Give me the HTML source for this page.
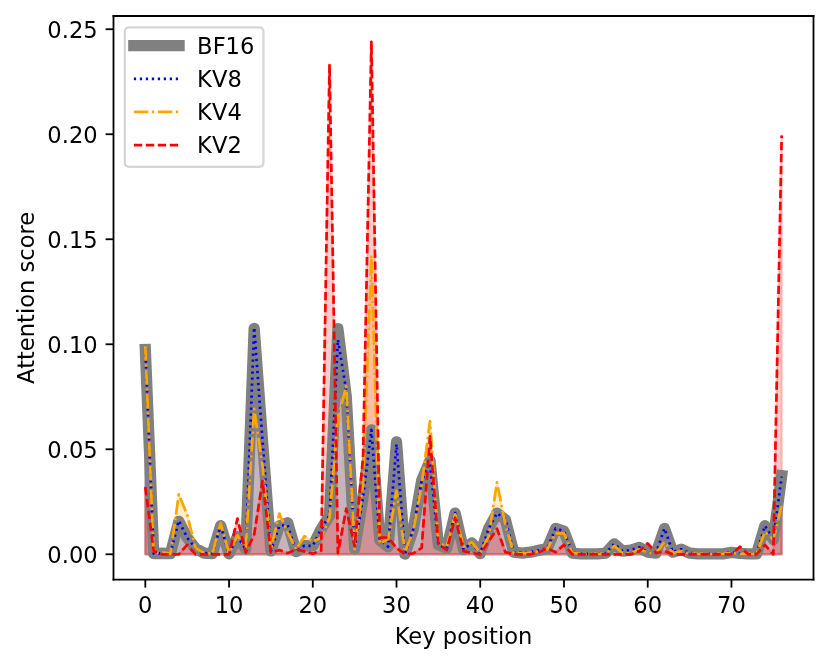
<!DOCTYPE html>
<html><head><meta charset="utf-8"><title>Attention score</title>
<style>html,body{margin:0;padding:0;background:#fff}svg{display:block}svg text{font-family:"DejaVu Sans","Liberation Sans",sans-serif}</style></head>
<body>
<svg  width="830" height="665" viewBox="0 0 367.18894 294.193548"  version="1.1">
 
 <defs>
  <style type="text/css">*{stroke-linejoin: round; stroke-linecap: butt}</style>
 </defs>
 <g id="figure_1">
  <g id="patch_1">
   <path d="M 0 294.193548 
L 367.18894 294.193548 
L 367.18894 0 
L 0 0 
z
" style="fill: #ffffff"/>
  </g>
  <g id="axes_1">
   <g id="patch_2">
    <path d="M 50.211982 256.457143 
L 359.889401 256.457143 
L 359.889401 7.078341 
L 50.211982 7.078341 
z
" style="fill: #ffffff"/>
   </g>
   <g id="FillBetweenPolyCollection_1">
    <defs>
     <path id="m7d5eb686ec" d="M 64.288228 -139.56918 
L 64.288228 -48.978892 
L 67.992503 -48.978892 
L 71.696779 -48.978892 
L 75.401054 -48.978892 
L 79.105329 -48.978892 
L 82.809605 -48.978892 
L 86.51388 -48.978892 
L 90.218155 -48.978892 
L 93.922431 -48.978892 
L 97.626706 -48.978892 
L 101.330981 -48.978892 
L 105.035257 -48.978892 
L 108.739532 -48.978892 
L 112.443807 -48.978892 
L 116.148083 -48.978892 
L 119.852358 -48.978892 
L 123.556634 -48.978892 
L 127.260909 -48.978892 
L 130.965184 -48.978892 
L 134.66946 -48.978892 
L 138.373735 -48.978892 
L 142.07801 -48.978892 
L 145.782286 -48.978892 
L 149.486561 -48.978892 
L 153.190836 -48.978892 
L 156.895112 -48.978892 
L 160.599387 -48.978892 
L 164.303662 -48.978892 
L 168.007938 -48.978892 
L 171.712213 -48.978892 
L 175.416488 -48.978892 
L 179.120764 -48.978892 
L 182.825039 -48.978892 
L 186.529314 -48.978892 
L 190.23359 -48.978892 
L 193.937865 -48.978892 
L 197.642141 -48.978892 
L 201.346416 -48.978892 
L 205.050691 -48.978892 
L 208.754967 -48.978892 
L 212.459242 -48.978892 
L 216.163517 -48.978892 
L 219.867793 -48.978892 
L 223.572068 -48.978892 
L 227.276343 -48.978892 
L 230.980619 -48.978892 
L 234.684894 -48.978892 
L 238.389169 -48.978892 
L 242.093445 -48.978892 
L 245.79772 -48.978892 
L 249.501995 -48.978892 
L 253.206271 -48.978892 
L 256.910546 -48.978892 
L 260.614822 -48.978892 
L 264.319097 -48.978892 
L 268.023372 -48.978892 
L 271.727648 -48.978892 
L 275.431923 -48.978892 
L 279.136198 -48.978892 
L 282.840474 -48.978892 
L 286.544749 -48.978892 
L 290.249024 -48.978892 
L 293.9533 -48.978892 
L 297.657575 -48.978892 
L 301.36185 -48.978892 
L 305.066126 -48.978892 
L 308.770401 -48.978892 
L 312.474676 -48.978892 
L 316.178952 -48.978892 
L 319.883227 -48.978892 
L 323.587502 -48.978892 
L 327.291778 -48.978892 
L 330.996053 -48.978892 
L 334.700329 -48.978892 
L 338.404604 -48.978892 
L 342.108879 -48.978892 
L 345.813155 -48.978892 
L 345.813155 -83.821311 
L 345.813155 -83.821311 
L 342.108879 -55.482811 
L 338.404604 -61.615076 
L 334.700329 -49.164719 
L 330.996053 -49.164719 
L 327.291778 -49.350545 
L 323.587502 -49.815111 
L 319.883227 -49.164719 
L 316.178952 -49.164719 
L 312.474676 -49.164719 
L 308.770401 -49.164719 
L 305.066126 -49.536371 
L 301.36185 -51.208807 
L 297.657575 -49.908024 
L 293.9533 -60.407206 
L 290.249024 -49.536371 
L 286.544749 -49.908024 
L 282.840474 -52.045025 
L 279.136198 -50.837155 
L 275.431923 -50.372589 
L 271.727648 -53.624548 
L 268.023372 -49.536371 
L 264.319097 -49.164719 
L 260.614822 -49.164719 
L 256.910546 -49.164719 
L 253.206271 -49.536371 
L 249.501995 -59.199335 
L 245.79772 -60.407206 
L 242.093445 -51.58046 
L 238.389169 -50.744242 
L 234.684894 -49.908024 
L 230.980619 -49.536371 
L 227.276343 -49.908024 
L 223.572068 -64.309557 
L 219.867793 -67.189863 
L 216.163517 -60.314293 
L 212.459242 -49.257632 
L 208.754967 -53.996201 
L 205.050691 -51.115894 
L 201.346416 -67.189863 
L 197.642141 -51.58046 
L 193.937865 -53.159983 
L 190.23359 -90.418142 
L 186.529314 -81.498483 
L 182.825039 -60.035553 
L 179.120764 -49.071806 
L 175.416488 -98.687409 
L 171.712213 -52.323765 
L 168.007938 -55.296984 
L 164.303662 -103.983457 
L 160.599387 -74.065434 
L 156.895112 -51.394633 
L 153.190836 -118.663729 
L 149.486561 -148.767578 
L 145.782286 -66.167819 
L 142.07801 -60.128466 
L 138.373735 -52.695417 
L 134.66946 -52.78833 
L 130.965184 -50.186763 
L 127.260909 -62.91586 
L 123.556634 -61.522163 
L 119.852358 -50.465502 
L 116.148083 -99.151975 
L 112.443807 -148.953405 
L 108.739532 -51.208807 
L 105.035257 -56.783594 
L 101.330981 -49.164719 
L 97.626706 -61.615076 
L 93.922431 -49.257632 
L 90.218155 -49.536371 
L 86.51388 -51.58046 
L 82.809605 -56.319029 
L 79.105329 -63.566252 
L 75.401054 -49.257632 
L 71.696779 -49.443458 
L 67.992503 -49.257632 
L 64.288228 -139.56918 
z
" style="stroke: #808080; stroke-opacity: 0.2"/>
    </defs>
    <g clip-path="url(#pd3fb767a31)">
     <use xlink:href="#m7d5eb686ec" x="0" y="294.193548" style="fill: #808080; fill-opacity: 0.2; stroke: #808080; stroke-opacity: 0.2"/>
    </g>
   </g>
   <g id="FillBetweenPolyCollection_2">
    <defs>
     <path id="mb0e2441664" d="M 64.288228 -140.033746 
L 64.288228 -48.978892 
L 67.992503 -48.978892 
L 71.696779 -48.978892 
L 75.401054 -48.978892 
L 79.105329 -48.978892 
L 82.809605 -48.978892 
L 86.51388 -48.978892 
L 90.218155 -48.978892 
L 93.922431 -48.978892 
L 97.626706 -48.978892 
L 101.330981 -48.978892 
L 105.035257 -48.978892 
L 108.739532 -48.978892 
L 112.443807 -48.978892 
L 116.148083 -48.978892 
L 119.852358 -48.978892 
L 123.556634 -48.978892 
L 127.260909 -48.978892 
L 130.965184 -48.978892 
L 134.66946 -48.978892 
L 138.373735 -48.978892 
L 142.07801 -48.978892 
L 145.782286 -48.978892 
L 149.486561 -48.978892 
L 153.190836 -48.978892 
L 156.895112 -48.978892 
L 160.599387 -48.978892 
L 164.303662 -48.978892 
L 168.007938 -48.978892 
L 171.712213 -48.978892 
L 175.416488 -48.978892 
L 179.120764 -48.978892 
L 182.825039 -48.978892 
L 186.529314 -48.978892 
L 190.23359 -48.978892 
L 193.937865 -48.978892 
L 197.642141 -48.978892 
L 201.346416 -48.978892 
L 205.050691 -48.978892 
L 208.754967 -48.978892 
L 212.459242 -48.978892 
L 216.163517 -48.978892 
L 219.867793 -48.978892 
L 223.572068 -48.978892 
L 227.276343 -48.978892 
L 230.980619 -48.978892 
L 234.684894 -48.978892 
L 238.389169 -48.978892 
L 242.093445 -48.978892 
L 245.79772 -48.978892 
L 249.501995 -48.978892 
L 253.206271 -48.978892 
L 256.910546 -48.978892 
L 260.614822 -48.978892 
L 264.319097 -48.978892 
L 268.023372 -48.978892 
L 271.727648 -48.978892 
L 275.431923 -48.978892 
L 279.136198 -48.978892 
L 282.840474 -48.978892 
L 286.544749 -48.978892 
L 290.249024 -48.978892 
L 293.9533 -48.978892 
L 297.657575 -48.978892 
L 301.36185 -48.978892 
L 305.066126 -48.978892 
L 308.770401 -48.978892 
L 312.474676 -48.978892 
L 316.178952 -48.978892 
L 319.883227 -48.978892 
L 323.587502 -48.978892 
L 327.291778 -48.978892 
L 330.996053 -48.978892 
L 334.700329 -48.978892 
L 338.404604 -48.978892 
L 342.108879 -48.978892 
L 345.813155 -48.978892 
L 345.813155 -83.356745 
L 345.813155 -83.356745 
L 342.108879 -55.482811 
L 338.404604 -61.615076 
L 334.700329 -49.164719 
L 330.996053 -49.164719 
L 327.291778 -49.350545 
L 323.587502 -49.815111 
L 319.883227 -49.164719 
L 316.178952 -49.164719 
L 312.474676 -49.164719 
L 308.770401 -49.164719 
L 305.066126 -49.536371 
L 301.36185 -51.208807 
L 297.657575 -49.908024 
L 293.9533 -60.407206 
L 290.249024 -49.536371 
L 286.544749 -49.908024 
L 282.840474 -52.045025 
L 279.136198 -50.837155 
L 275.431923 -50.372589 
L 271.727648 -53.624548 
L 268.023372 -49.536371 
L 264.319097 -49.164719 
L 260.614822 -49.164719 
L 256.910546 -49.164719 
L 253.206271 -49.536371 
L 249.501995 -59.199335 
L 245.79772 -60.407206 
L 242.093445 -51.58046 
L 238.389169 -50.744242 
L 234.684894 -49.908024 
L 230.980619 -49.536371 
L 227.276343 -49.908024 
L 223.572068 -64.40247 
L 219.867793 -67.189863 
L 216.163517 -60.314293 
L 212.459242 -49.257632 
L 208.754967 -53.996201 
L 205.050691 -51.115894 
L 201.346416 -67.189863 
L 197.642141 -51.58046 
L 193.937865 -53.159983 
L 190.23359 -89.396098 
L 186.529314 -81.498483 
L 182.825039 -60.035553 
L 179.120764 -49.071806 
L 175.416488 -97.758278 
L 171.712213 -52.323765 
L 168.007938 -55.296984 
L 164.303662 -103.983457 
L 160.599387 -74.065434 
L 156.895112 -51.394633 
L 153.190836 -121.451123 
L 149.486561 -143.936096 
L 145.782286 -66.167819 
L 142.07801 -60.128466 
L 138.373735 -52.695417 
L 134.66946 -52.78833 
L 130.965184 -50.186763 
L 127.260909 -61.986729 
L 123.556634 -61.522163 
L 119.852358 -50.465502 
L 116.148083 -99.151975 
L 112.443807 -149.325057 
L 108.739532 -51.208807 
L 105.035257 -56.783594 
L 101.330981 -49.164719 
L 97.626706 -61.615076 
L 93.922431 -49.257632 
L 90.218155 -49.536371 
L 86.51388 -51.58046 
L 82.809605 -56.319029 
L 79.105329 -63.844991 
L 75.401054 -49.257632 
L 71.696779 -49.443458 
L 67.992503 -49.257632 
L 64.288228 -140.033746 
z
" style="stroke: #0000ff; stroke-opacity: 0.2"/>
    </defs>
    <g clip-path="url(#pd3fb767a31)">
     <use xlink:href="#mb0e2441664" x="0" y="294.193548" style="fill: #0000ff; fill-opacity: 0.2; stroke: #0000ff; stroke-opacity: 0.2"/>
    </g>
   </g>
   <g id="FillBetweenPolyCollection_3">
    <defs>
     <path id="m4b49c7cc58" d="M 64.288228 -140.962877 
L 64.288228 -48.978892 
L 67.992503 -48.978892 
L 71.696779 -48.978892 
L 75.401054 -48.978892 
L 79.105329 -48.978892 
L 82.809605 -48.978892 
L 86.51388 -48.978892 
L 90.218155 -48.978892 
L 93.922431 -48.978892 
L 97.626706 -48.978892 
L 101.330981 -48.978892 
L 105.035257 -48.978892 
L 108.739532 -48.978892 
L 112.443807 -48.978892 
L 116.148083 -48.978892 
L 119.852358 -48.978892 
L 123.556634 -48.978892 
L 127.260909 -48.978892 
L 130.965184 -48.978892 
L 134.66946 -48.978892 
L 138.373735 -48.978892 
L 142.07801 -48.978892 
L 145.782286 -48.978892 
L 149.486561 -48.978892 
L 153.190836 -48.978892 
L 156.895112 -48.978892 
L 160.599387 -48.978892 
L 164.303662 -48.978892 
L 168.007938 -48.978892 
L 171.712213 -48.978892 
L 175.416488 -48.978892 
L 179.120764 -48.978892 
L 182.825039 -48.978892 
L 186.529314 -48.978892 
L 190.23359 -48.978892 
L 193.937865 -48.978892 
L 197.642141 -48.978892 
L 201.346416 -48.978892 
L 205.050691 -48.978892 
L 208.754967 -48.978892 
L 212.459242 -48.978892 
L 216.163517 -48.978892 
L 219.867793 -48.978892 
L 223.572068 -48.978892 
L 227.276343 -48.978892 
L 230.980619 -48.978892 
L 234.684894 -48.978892 
L 238.389169 -48.978892 
L 242.093445 -48.978892 
L 245.79772 -48.978892 
L 249.501995 -48.978892 
L 253.206271 -48.978892 
L 256.910546 -48.978892 
L 260.614822 -48.978892 
L 264.319097 -48.978892 
L 268.023372 -48.978892 
L 271.727648 -48.978892 
L 275.431923 -48.978892 
L 279.136198 -48.978892 
L 282.840474 -48.978892 
L 286.544749 -48.978892 
L 290.249024 -48.978892 
L 293.9533 -48.978892 
L 297.657575 -48.978892 
L 301.36185 -48.978892 
L 305.066126 -48.978892 
L 308.770401 -48.978892 
L 312.474676 -48.978892 
L 316.178952 -48.978892 
L 319.883227 -48.978892 
L 323.587502 -48.978892 
L 327.291778 -48.978892 
L 330.996053 -48.978892 
L 334.700329 -48.978892 
L 338.404604 -48.978892 
L 342.108879 -48.978892 
L 345.813155 -48.978892 
L 345.813155 -70.720562 
L 345.813155 -70.720562 
L 342.108879 -55.482811 
L 338.404604 -58.920596 
L 334.700329 -49.164719 
L 330.996053 -49.164719 
L 327.291778 -49.257632 
L 323.587502 -49.536371 
L 319.883227 -49.164719 
L 316.178952 -49.164719 
L 312.474676 -49.164719 
L 308.770401 -49.164719 
L 305.066126 -49.350545 
L 301.36185 -50.372589 
L 297.657575 -49.536371 
L 293.9533 -54.367853 
L 290.249024 -49.536371 
L 286.544749 -49.722197 
L 282.840474 -51.208807 
L 279.136198 -49.536371 
L 275.431923 -49.536371 
L 271.727648 -52.695417 
L 268.023372 -49.164719 
L 264.319097 -49.164719 
L 260.614822 -49.164719 
L 256.910546 -49.164719 
L 253.206271 -49.536371 
L 249.501995 -58.270204 
L 245.79772 -58.270204 
L 242.093445 -51.208807 
L 238.389169 -50.372589 
L 234.684894 -49.722197 
L 230.980619 -49.443458 
L 227.276343 -49.443458 
L 223.572068 -62.172555 
L 219.867793 -80.755178 
L 216.163517 -56.876507 
L 212.459242 -49.536371 
L 208.754967 -54.367853 
L 205.050691 -52.323765 
L 201.346416 -66.632384 
L 197.642141 -52.323765 
L 193.937865 -54.367853 
L 190.23359 -107.885808 
L 186.529314 -79.640221 
L 182.825039 -59.199335 
L 179.120764 -49.908024 
L 175.416488 -77.038653 
L 171.712213 -55.76155 
L 168.007938 -53.624548 
L 164.303662 -181.194256 
L 160.599387 -79.640221 
L 156.895112 -51.208807 
L 153.190836 -123.309385 
L 149.486561 -109.372418 
L 145.782286 -65.145775 
L 142.07801 -56.411942 
L 138.373735 -54.553679 
L 134.66946 -56.96942 
L 130.965184 -51.115894 
L 127.260909 -58.73477 
L 123.556634 -67.004037 
L 119.852358 -51.30172 
L 116.148083 -88.002401 
L 112.443807 -113.274768 
L 108.739532 -52.230852 
L 105.035257 -57.341073 
L 101.330981 -49.257632 
L 97.626706 -62.730034 
L 93.922431 -49.257632 
L 90.218155 -49.536371 
L 86.51388 -51.766286 
L 82.809605 -66.446558 
L 79.105329 -75.45913 
L 75.401054 -49.257632 
L 71.696779 -49.908024 
L 67.992503 -49.443458 
L 64.288228 -140.962877 
z
" style="stroke: #ffa500; stroke-opacity: 0.2"/>
    </defs>
    <g clip-path="url(#pd3fb767a31)">
     <use xlink:href="#m4b49c7cc58" x="0" y="294.193548" style="fill: #ffa500; fill-opacity: 0.2; stroke: #ffa500; stroke-opacity: 0.2"/>
    </g>
   </g>
   <g id="FillBetweenPolyCollection_4">
    <defs>
     <path id="ma4ce3d1c62" d="M 64.288228 -78.711089 
L 64.288228 -48.978892 
L 67.992503 -48.978892 
L 71.696779 -48.978892 
L 75.401054 -48.978892 
L 79.105329 -48.978892 
L 82.809605 -48.978892 
L 86.51388 -48.978892 
L 90.218155 -48.978892 
L 93.922431 -48.978892 
L 97.626706 -48.978892 
L 101.330981 -48.978892 
L 105.035257 -48.978892 
L 108.739532 -48.978892 
L 112.443807 -48.978892 
L 116.148083 -48.978892 
L 119.852358 -48.978892 
L 123.556634 -48.978892 
L 127.260909 -48.978892 
L 130.965184 -48.978892 
L 134.66946 -48.978892 
L 138.373735 -48.978892 
L 142.07801 -48.978892 
L 145.782286 -48.978892 
L 149.486561 -48.978892 
L 153.190836 -48.978892 
L 156.895112 -48.978892 
L 160.599387 -48.978892 
L 164.303662 -48.978892 
L 168.007938 -48.978892 
L 171.712213 -48.978892 
L 175.416488 -48.978892 
L 179.120764 -48.978892 
L 182.825039 -48.978892 
L 186.529314 -48.978892 
L 190.23359 -48.978892 
L 193.937865 -48.978892 
L 197.642141 -48.978892 
L 201.346416 -48.978892 
L 205.050691 -48.978892 
L 208.754967 -48.978892 
L 212.459242 -48.978892 
L 216.163517 -48.978892 
L 219.867793 -48.978892 
L 223.572068 -48.978892 
L 227.276343 -48.978892 
L 230.980619 -48.978892 
L 234.684894 -48.978892 
L 238.389169 -48.978892 
L 242.093445 -48.978892 
L 245.79772 -48.978892 
L 249.501995 -48.978892 
L 253.206271 -48.978892 
L 256.910546 -48.978892 
L 260.614822 -48.978892 
L 264.319097 -48.978892 
L 268.023372 -48.978892 
L 271.727648 -48.978892 
L 275.431923 -48.978892 
L 279.136198 -48.978892 
L 282.840474 -48.978892 
L 286.544749 -48.978892 
L 290.249024 -48.978892 
L 293.9533 -48.978892 
L 297.657575 -48.978892 
L 301.36185 -48.978892 
L 305.066126 -48.978892 
L 308.770401 -48.978892 
L 312.474676 -48.978892 
L 316.178952 -48.978892 
L 319.883227 -48.978892 
L 323.587502 -48.978892 
L 327.291778 -48.978892 
L 330.996053 -48.978892 
L 334.700329 -48.978892 
L 338.404604 -48.978892 
L 342.108879 -48.978892 
L 345.813155 -48.978892 
L 345.813155 -234.247645 
L 345.813155 -234.247645 
L 342.108879 -48.978892 
L 338.404604 -53.159983 
L 334.700329 -48.978892 
L 330.996053 -48.978892 
L 327.291778 -52.323765 
L 323.587502 -48.978892 
L 319.883227 -48.978892 
L 316.178952 -48.978892 
L 312.474676 -48.978892 
L 308.770401 -48.978892 
L 305.066126 -48.978892 
L 301.36185 -48.978892 
L 297.657575 -48.978892 
L 293.9533 -50.372589 
L 290.249024 -49.536371 
L 286.544749 -53.810375 
L 282.840474 -50.372589 
L 279.136198 -48.978892 
L 275.431923 -48.978892 
L 271.727648 -48.978892 
L 268.023372 -48.978892 
L 264.319097 -48.978892 
L 260.614822 -48.978892 
L 256.910546 -48.978892 
L 253.206271 -48.978892 
L 249.501995 -53.159983 
L 245.79772 -49.908024 
L 242.093445 -51.58046 
L 238.389169 -49.908024 
L 234.684894 -48.978892 
L 230.980619 -48.978892 
L 227.276343 -48.978892 
L 223.572068 -49.908024 
L 219.867793 -60.314293 
L 216.163517 -54.553679 
L 212.459242 -48.978892 
L 208.754967 -49.536371 
L 205.050691 -50.372589 
L 201.346416 -65.145775 
L 197.642141 -50.837155 
L 193.937865 -53.624548 
L 190.23359 -101.10315 
L 186.529314 -51.766286 
L 182.825039 -49.350545 
L 179.120764 -48.978892 
L 175.416488 -51.766286 
L 171.712213 -56.411942 
L 168.007938 -56.319029 
L 164.303662 -275.686894 
L 160.599387 -91.718926 
L 156.895112 -52.509591 
L 153.190836 -69.141039 
L 149.486561 -49.443458 
L 145.782286 -265.745191 
L 142.07801 -50.558415 
L 138.373735 -49.257632 
L 134.66946 -50.279676 
L 130.965184 -51.115894 
L 127.260909 -49.443458 
L 123.556634 -50.837155 
L 119.852358 -49.722197 
L 116.148083 -81.498483 
L 112.443807 -57.712725 
L 108.739532 -49.722197 
L 105.035257 -64.774122 
L 101.330981 -48.978892 
L 97.626706 -48.978892 
L 93.922431 -48.978892 
L 90.218155 -48.978892 
L 86.51388 -48.978892 
L 82.809605 -53.159983 
L 79.105329 -48.978892 
L 75.401054 -48.978892 
L 71.696779 -48.978892 
L 67.992503 -50.372589 
L 64.288228 -78.711089 
z
" style="stroke: #ff0000; stroke-opacity: 0.2"/>
    </defs>
    <g clip-path="url(#pd3fb767a31)">
     <use xlink:href="#ma4ce3d1c62" x="0" y="294.193548" style="fill: #ff0000; fill-opacity: 0.2; stroke: #ff0000; stroke-opacity: 0.2"/>
    </g>
   </g>
   <g id="matplotlib.axis_1">
    <g id="xtick_1">
     <g id="line2d_1">
      <defs>
       <path id="mc421d6104f" d="M 0 0 
L 0 3.5 
" style="stroke: #000000; stroke-width: 0.8"/>
      </defs>
      <g>
       <use xlink:href="#mc421d6104f" x="64.288228" y="256.457143" style="stroke: #000000; stroke-width: 0.8"/>
      </g>
     </g>
     <g id="text_1">
      <text style="font-size: 10px; font-family: 'DejaVu Sans', 'Liberation Sans', sans-serif; text-anchor: middle" x="64.288228" y="271.05558" transform="rotate(-0 64.288228 271.05558)">0</text>
     </g>
    </g>
    <g id="xtick_2">
     <g id="line2d_2">
      <g>
       <use xlink:href="#mc421d6104f" x="101.330981" y="256.457143" style="stroke: #000000; stroke-width: 0.8"/>
      </g>
     </g>
     <g id="text_2">
      <text style="font-size: 10px; font-family: 'DejaVu Sans', 'Liberation Sans', sans-serif; text-anchor: middle" x="101.330981" y="271.05558" transform="rotate(-0 101.330981 271.05558)">10</text>
     </g>
    </g>
    <g id="xtick_3">
     <g id="line2d_3">
      <g>
       <use xlink:href="#mc421d6104f" x="138.373735" y="256.457143" style="stroke: #000000; stroke-width: 0.8"/>
      </g>
     </g>
     <g id="text_3">
      <text style="font-size: 10px; font-family: 'DejaVu Sans', 'Liberation Sans', sans-serif; text-anchor: middle" x="138.373735" y="271.05558" transform="rotate(-0 138.373735 271.05558)">20</text>
     </g>
    </g>
    <g id="xtick_4">
     <g id="line2d_4">
      <g>
       <use xlink:href="#mc421d6104f" x="175.416488" y="256.457143" style="stroke: #000000; stroke-width: 0.8"/>
      </g>
     </g>
     <g id="text_4">
      <text style="font-size: 10px; font-family: 'DejaVu Sans', 'Liberation Sans', sans-serif; text-anchor: middle" x="175.416488" y="271.05558" transform="rotate(-0 175.416488 271.05558)">30</text>
     </g>
    </g>
    <g id="xtick_5">
     <g id="line2d_5">
      <g>
       <use xlink:href="#mc421d6104f" x="212.459242" y="256.457143" style="stroke: #000000; stroke-width: 0.8"/>
      </g>
     </g>
     <g id="text_5">
      <text style="font-size: 10px; font-family: 'DejaVu Sans', 'Liberation Sans', sans-serif; text-anchor: middle" x="212.459242" y="271.05558" transform="rotate(-0 212.459242 271.05558)">40</text>
     </g>
    </g>
    <g id="xtick_6">
     <g id="line2d_6">
      <g>
       <use xlink:href="#mc421d6104f" x="249.501995" y="256.457143" style="stroke: #000000; stroke-width: 0.8"/>
      </g>
     </g>
     <g id="text_6">
      <text style="font-size: 10px; font-family: 'DejaVu Sans', 'Liberation Sans', sans-serif; text-anchor: middle" x="249.501995" y="271.05558" transform="rotate(-0 249.501995 271.05558)">50</text>
     </g>
    </g>
    <g id="xtick_7">
     <g id="line2d_7">
      <g>
       <use xlink:href="#mc421d6104f" x="286.544749" y="256.457143" style="stroke: #000000; stroke-width: 0.8"/>
      </g>
     </g>
     <g id="text_7">
      <text style="font-size: 10px; font-family: 'DejaVu Sans', 'Liberation Sans', sans-serif; text-anchor: middle" x="286.544749" y="271.05558" transform="rotate(-0 286.544749 271.05558)">60</text>
     </g>
    </g>
    <g id="xtick_8">
     <g id="line2d_8">
      <g>
       <use xlink:href="#mc421d6104f" x="323.587502" y="256.457143" style="stroke: #000000; stroke-width: 0.8"/>
      </g>
     </g>
     <g id="text_8">
      <text style="font-size: 10px; font-family: 'DejaVu Sans', 'Liberation Sans', sans-serif; text-anchor: middle" x="323.587502" y="271.05558" transform="rotate(-0 323.587502 271.05558)">70</text>
     </g>
    </g>
    <g id="text_9">
     <text style="font-size: 10px; font-family: 'DejaVu Sans', 'Liberation Sans', sans-serif; text-anchor: middle" x="205.050691" y="285.083705" transform="rotate(-0 205.050691 285.083705)">Key position</text>
    </g>
   </g>
   <g id="matplotlib.axis_2">
    <g id="ytick_1">
     <g id="line2d_9">
      <defs>
       <path id="m4d894b1a33" d="M 0 0 
L -3.5 0 
" style="stroke: #000000; stroke-width: 0.8"/>
      </defs>
      <g>
       <use xlink:href="#m4d894b1a33" x="50.211982" y="245.214656" style="stroke: #000000; stroke-width: 0.8"/>
      </g>
     </g>
     <g id="text_10">
      <text style="font-size: 10px; font-family: 'DejaVu Sans', 'Liberation Sans', sans-serif; text-anchor: end" x="43.211982" y="249.013875" transform="rotate(-0 43.211982 249.013875)">0.00</text>
     </g>
    </g>
    <g id="ytick_2">
     <g id="line2d_10">
      <g>
       <use xlink:href="#m4d894b1a33" x="50.211982" y="198.758098" style="stroke: #000000; stroke-width: 0.8"/>
      </g>
     </g>
     <g id="text_11">
      <text style="font-size: 10px; font-family: 'DejaVu Sans', 'Liberation Sans', sans-serif; text-anchor: end" x="43.211982" y="202.557317" transform="rotate(-0 43.211982 202.557317)">0.05</text>
     </g>
    </g>
    <g id="ytick_3">
     <g id="line2d_11">
      <g>
       <use xlink:href="#m4d894b1a33" x="50.211982" y="152.30154" style="stroke: #000000; stroke-width: 0.8"/>
      </g>
     </g>
     <g id="text_12">
      <text style="font-size: 10px; font-family: 'DejaVu Sans', 'Liberation Sans', sans-serif; text-anchor: end" x="43.211982" y="156.100759" transform="rotate(-0 43.211982 156.100759)">0.10</text>
     </g>
    </g>
    <g id="ytick_4">
     <g id="line2d_12">
      <g>
       <use xlink:href="#m4d894b1a33" x="50.211982" y="105.844983" style="stroke: #000000; stroke-width: 0.8"/>
      </g>
     </g>
     <g id="text_13">
      <text style="font-size: 10px; font-family: 'DejaVu Sans', 'Liberation Sans', sans-serif; text-anchor: end" x="43.211982" y="109.644201" transform="rotate(-0 43.211982 109.644201)">0.15</text>
     </g>
    </g>
    <g id="ytick_5">
     <g id="line2d_13">
      <g>
       <use xlink:href="#m4d894b1a33" x="50.211982" y="59.388425" style="stroke: #000000; stroke-width: 0.8"/>
      </g>
     </g>
     <g id="text_14">
      <text style="font-size: 10px; font-family: 'DejaVu Sans', 'Liberation Sans', sans-serif; text-anchor: end" x="43.211982" y="63.187644" transform="rotate(-0 43.211982 63.187644)">0.20</text>
     </g>
    </g>
    <g id="ytick_6">
     <g id="line2d_14">
      <g>
       <use xlink:href="#m4d894b1a33" x="50.211982" y="12.931867" style="stroke: #000000; stroke-width: 0.8"/>
      </g>
     </g>
     <g id="text_15">
      <text style="font-size: 10px; font-family: 'DejaVu Sans', 'Liberation Sans', sans-serif; text-anchor: end" x="43.211982" y="16.731086" transform="rotate(-0 43.211982 16.731086)">0.25</text>
     </g>
    </g>
    <g id="text_16">
     <text style="font-size: 10px; font-family: 'DejaVu Sans', 'Liberation Sans', sans-serif; text-anchor: middle" x="14.866669" y="131.767742" transform="rotate(-90 14.866669 131.767742)">Attention score</text>
    </g>
   </g>
   <g id="line2d_15">
    <path d="M 64.288228 154.624368 
L 67.992503 244.935917 
L 71.696779 244.75009 
L 75.401054 244.935917 
L 79.105329 230.627297 
L 82.809605 237.87452 
L 86.51388 242.613089 
L 90.218155 244.657177 
L 93.922431 244.935917 
L 97.626706 232.578472 
L 101.330981 245.02883 
L 105.035257 237.409954 
L 108.739532 242.984741 
L 112.443807 145.240144 
L 116.148083 195.041574 
L 119.852358 243.728046 
L 123.556634 232.671385 
L 127.260909 231.277689 
L 130.965184 244.006785 
L 134.66946 241.405218 
L 138.373735 241.498131 
L 142.07801 234.065082 
L 145.782286 228.02573 
L 149.486561 145.42597 
L 153.190836 175.529819 
L 156.895112 242.798915 
L 160.599387 220.128115 
L 164.303662 190.210092 
L 168.007938 238.896564 
L 171.712213 241.869784 
L 175.416488 195.506139 
L 179.120764 245.121743 
L 182.825039 234.157995 
L 186.529314 212.695065 
L 190.23359 203.775406 
L 193.937865 241.033566 
L 197.642141 242.613089 
L 201.346416 227.003685 
L 205.050691 243.077654 
L 208.754967 240.197348 
L 212.459242 244.935917 
L 216.163517 233.879256 
L 219.867793 227.003685 
L 223.572068 229.883992 
L 227.276343 244.285525 
L 230.980619 244.657177 
L 234.684894 244.285525 
L 238.389169 243.449307 
L 242.093445 242.613089 
L 245.79772 233.786343 
L 249.501995 234.994213 
L 253.206271 244.657177 
L 256.910546 245.02883 
L 260.614822 245.02883 
L 264.319097 245.02883 
L 268.023372 244.657177 
L 271.727648 240.569 
L 275.431923 243.820959 
L 279.136198 243.356394 
L 282.840474 242.148523 
L 286.544749 244.285525 
L 290.249024 244.657177 
L 293.9533 233.786343 
L 297.657575 244.285525 
L 301.36185 242.984741 
L 305.066126 244.657177 
L 308.770401 245.02883 
L 312.474676 245.02883 
L 316.178952 245.02883 
L 319.883227 245.02883 
L 323.587502 244.378438 
L 327.291778 244.843003 
L 330.996053 245.02883 
L 334.700329 245.02883 
L 338.404604 232.578472 
L 342.108879 238.710738 
L 345.813155 210.372238 
" clip-path="url(#pd3fb767a31)" style="fill: none; stroke: #808080; stroke-width: 5; stroke-linecap: square"/>
   </g>
   <g id="line2d_16">
    <path d="M 64.288228 154.159803 
L 67.992503 244.935917 
L 71.696779 244.75009 
L 75.401054 244.935917 
L 79.105329 230.348557 
L 82.809605 237.87452 
L 86.51388 242.613089 
L 90.218155 244.657177 
L 93.922431 244.935917 
L 97.626706 232.578472 
L 101.330981 245.02883 
L 105.035257 237.409954 
L 108.739532 242.984741 
L 112.443807 144.868491 
L 116.148083 195.041574 
L 119.852358 243.728046 
L 123.556634 232.671385 
L 127.260909 232.20682 
L 130.965184 244.006785 
L 134.66946 241.405218 
L 138.373735 241.498131 
L 142.07801 234.065082 
L 145.782286 228.02573 
L 149.486561 150.257452 
L 153.190836 172.742426 
L 156.895112 242.798915 
L 160.599387 220.128115 
L 164.303662 190.210092 
L 168.007938 238.896564 
L 171.712213 241.869784 
L 175.416488 196.43527 
L 179.120764 245.121743 
L 182.825039 234.157995 
L 186.529314 212.695065 
L 190.23359 204.797451 
L 193.937865 241.033566 
L 197.642141 242.613089 
L 201.346416 227.003685 
L 205.050691 243.077654 
L 208.754967 240.197348 
L 212.459242 244.935917 
L 216.163517 233.879256 
L 219.867793 227.003685 
L 223.572068 229.791079 
L 227.276343 244.285525 
L 230.980619 244.657177 
L 234.684894 244.285525 
L 238.389169 243.449307 
L 242.093445 242.613089 
L 245.79772 233.786343 
L 249.501995 234.994213 
L 253.206271 244.657177 
L 256.910546 245.02883 
L 260.614822 245.02883 
L 264.319097 245.02883 
L 268.023372 244.657177 
L 271.727648 240.569 
L 275.431923 243.820959 
L 279.136198 243.356394 
L 282.840474 242.148523 
L 286.544749 244.285525 
L 290.249024 244.657177 
L 293.9533 233.786343 
L 297.657575 244.285525 
L 301.36185 242.984741 
L 305.066126 244.657177 
L 308.770401 245.02883 
L 312.474676 245.02883 
L 316.178952 245.02883 
L 319.883227 245.02883 
L 323.587502 244.378438 
L 327.291778 244.843003 
L 330.996053 245.02883 
L 334.700329 245.02883 
L 338.404604 232.578472 
L 342.108879 238.710738 
L 345.813155 210.836803 
" clip-path="url(#pd3fb767a31)" style="fill: none; stroke-dasharray: 1,1.65; stroke-dashoffset: 0; stroke: #0000ff; stroke-width: 1.2"/>
   </g>
   <g id="line2d_17">
    <path d="M 64.288228 153.230672 
L 67.992503 244.75009 
L 71.696779 244.285525 
L 75.401054 244.935917 
L 79.105329 218.734418 
L 82.809605 227.74699 
L 86.51388 242.427262 
L 90.218155 244.657177 
L 93.922431 244.935917 
L 97.626706 231.463515 
L 101.330981 244.935917 
L 105.035257 236.852475 
L 108.739532 241.962697 
L 112.443807 180.91878 
L 116.148083 206.191147 
L 119.852358 242.891828 
L 123.556634 227.189511 
L 127.260909 235.458779 
L 130.965184 243.077654 
L 134.66946 237.224128 
L 138.373735 239.639869 
L 142.07801 237.781607 
L 145.782286 229.047774 
L 149.486561 184.821131 
L 153.190836 170.884164 
L 156.895112 242.984741 
L 160.599387 214.553328 
L 164.303662 112.999293 
L 168.007938 240.569 
L 171.712213 238.431998 
L 175.416488 217.154895 
L 179.120764 244.285525 
L 182.825039 234.994213 
L 186.529314 214.553328 
L 190.23359 186.307741 
L 193.937865 239.825695 
L 197.642141 241.869784 
L 201.346416 227.561164 
L 205.050691 241.869784 
L 208.754967 239.825695 
L 212.459242 244.657177 
L 216.163517 237.317041 
L 219.867793 213.43837 
L 223.572068 232.020993 
L 227.276343 244.75009 
L 230.980619 244.75009 
L 234.684894 244.471351 
L 238.389169 243.820959 
L 242.093445 242.984741 
L 245.79772 235.923344 
L 249.501995 235.923344 
L 253.206271 244.657177 
L 256.910546 245.02883 
L 260.614822 245.02883 
L 264.319097 245.02883 
L 268.023372 245.02883 
L 271.727648 241.498131 
L 275.431923 244.657177 
L 279.136198 244.657177 
L 282.840474 242.984741 
L 286.544749 244.471351 
L 290.249024 244.657177 
L 293.9533 239.825695 
L 297.657575 244.657177 
L 301.36185 243.820959 
L 305.066126 244.843003 
L 308.770401 245.02883 
L 312.474676 245.02883 
L 316.178952 245.02883 
L 319.883227 245.02883 
L 323.587502 244.657177 
L 327.291778 244.935917 
L 330.996053 245.02883 
L 334.700329 245.02883 
L 338.404604 235.272953 
L 342.108879 238.710738 
L 345.813155 223.472987 
" clip-path="url(#pd3fb767a31)" style="fill: none; stroke-dasharray: 6.4,1.6,1,1.6; stroke-dashoffset: 0; stroke: #ffa500; stroke-width: 1.2"/>
   </g>
   <g id="line2d_18">
    <path d="M 64.288228 215.482459 
L 67.992503 243.820959 
L 71.696779 245.214656 
L 75.401054 245.214656 
L 79.105329 245.214656 
L 82.809605 241.033566 
L 86.51388 245.214656 
L 90.218155 245.214656 
L 93.922431 245.214656 
L 97.626706 245.214656 
L 101.330981 245.214656 
L 105.035257 229.419426 
L 108.739532 244.471351 
L 112.443807 236.480823 
L 116.148083 212.695065 
L 119.852358 244.471351 
L 123.556634 243.356394 
L 127.260909 244.75009 
L 130.965184 243.077654 
L 134.66946 243.913872 
L 138.373735 244.935917 
L 142.07801 243.635133 
L 145.782286 28.448358 
L 149.486561 244.75009 
L 153.190836 225.05251 
L 156.895112 241.683958 
L 160.599387 202.474623 
L 164.303662 18.506654 
L 168.007938 237.87452 
L 171.712213 237.781607 
L 175.416488 242.427262 
L 179.120764 245.214656 
L 182.825039 244.843003 
L 186.529314 242.427262 
L 190.23359 193.090398 
L 193.937865 240.569 
L 197.642141 243.356394 
L 201.346416 229.047774 
L 205.050691 243.820959 
L 208.754967 244.657177 
L 212.459242 245.214656 
L 216.163517 239.639869 
L 219.867793 233.879256 
L 223.572068 244.285525 
L 227.276343 245.214656 
L 230.980619 245.214656 
L 234.684894 245.214656 
L 238.389169 244.285525 
L 242.093445 242.613089 
L 245.79772 244.285525 
L 249.501995 241.033566 
L 253.206271 245.214656 
L 256.910546 245.214656 
L 260.614822 245.214656 
L 264.319097 245.214656 
L 268.023372 245.214656 
L 271.727648 245.214656 
L 275.431923 245.214656 
L 279.136198 245.214656 
L 282.840474 243.820959 
L 286.544749 240.383174 
L 290.249024 244.657177 
L 293.9533 243.820959 
L 297.657575 245.214656 
L 301.36185 245.214656 
L 305.066126 245.214656 
L 308.770401 245.214656 
L 312.474676 245.214656 
L 316.178952 245.214656 
L 319.883227 245.214656 
L 323.587502 245.214656 
L 327.291778 241.869784 
L 330.996053 245.214656 
L 334.700329 245.214656 
L 338.404604 241.033566 
L 342.108879 245.214656 
L 345.813155 59.945904 
" clip-path="url(#pd3fb767a31)" style="fill: none; stroke-dasharray: 3.7,1.6; stroke-dashoffset: 0; stroke: #ff0000; stroke-width: 1.2"/>
   </g>
   <g id="patch_3">
    <path d="M 50.211982 256.457143 
L 50.211982 7.078341 
" style="fill: none; stroke: #000000; stroke-width: 0.8; stroke-linejoin: miter; stroke-linecap: square"/>
   </g>
   <g id="patch_4">
    <path d="M 359.889401 256.457143 
L 359.889401 7.078341 
" style="fill: none; stroke: #000000; stroke-width: 0.8; stroke-linejoin: miter; stroke-linecap: square"/>
   </g>
   <g id="patch_5">
    <path d="M 50.211982 256.457143 
L 359.889401 256.457143 
" style="fill: none; stroke: #000000; stroke-width: 0.8; stroke-linejoin: miter; stroke-linecap: square"/>
   </g>
   <g id="patch_6">
    <path d="M 50.211982 7.078341 
L 359.889401 7.078341 
" style="fill: none; stroke: #000000; stroke-width: 0.8; stroke-linejoin: miter; stroke-linecap: square"/>
   </g>
   <g id="legend_1">
    <g id="patch_7">
     <path d="M 57.211982 73.790841 
L 114.549482 73.790841 
Q 116.549482 73.790841 116.549482 71.790841 
L 116.549482 14.078341 
Q 116.549482 12.078341 114.549482 12.078341 
L 57.211982 12.078341 
Q 55.211982 12.078341 55.211982 14.078341 
L 55.211982 71.790841 
Q 55.211982 73.790841 57.211982 73.790841 
z
" style="fill: #ffffff; opacity: 0.8; stroke: #cccccc; stroke-linejoin: miter"/>
    </g>
    <g id="line2d_19">
     <path d="M 59.211982 20.176779 
L 69.211982 20.176779 
L 79.211982 20.176779 
" style="fill: none; stroke: #808080; stroke-width: 5; stroke-linecap: square"/>
    </g>
    <g id="text_17">
     <text style="font-size: 10px; font-family: 'DejaVu Sans', 'Liberation Sans', sans-serif; text-anchor: start" x="87.211982" y="23.676779" transform="rotate(-0 87.211982 23.676779)">BF16</text>
    </g>
    <g id="line2d_20">
     <path d="M 59.211982 34.854904 
L 69.211982 34.854904 
L 79.211982 34.854904 
" style="fill: none; stroke-dasharray: 1,1.65; stroke-dashoffset: 0; stroke: #0000ff; stroke-width: 1.2"/>
    </g>
    <g id="text_18">
     <text style="font-size: 10px; font-family: 'DejaVu Sans', 'Liberation Sans', sans-serif; text-anchor: start" x="87.211982" y="38.354904" transform="rotate(-0 87.211982 38.354904)">KV8</text>
    </g>
    <g id="line2d_21">
     <path d="M 59.211982 49.533029 
L 69.211982 49.533029 
L 79.211982 49.533029 
" style="fill: none; stroke-dasharray: 6.4,1.6,1,1.6; stroke-dashoffset: 0; stroke: #ffa500; stroke-width: 1.2"/>
    </g>
    <g id="text_19">
     <text style="font-size: 10px; font-family: 'DejaVu Sans', 'Liberation Sans', sans-serif; text-anchor: start" x="87.211982" y="53.033029" transform="rotate(-0 87.211982 53.033029)">KV4</text>
    </g>
    <g id="line2d_22">
     <path d="M 59.211982 64.211154 
L 69.211982 64.211154 
L 79.211982 64.211154 
" style="fill: none; stroke-dasharray: 3.7,1.6; stroke-dashoffset: 0; stroke: #ff0000; stroke-width: 1.2"/>
    </g>
    <g id="text_20">
     <text style="font-size: 10px; font-family: 'DejaVu Sans', 'Liberation Sans', sans-serif; text-anchor: start" x="87.211982" y="67.711154" transform="rotate(-0 87.211982 67.711154)">KV2</text>
    </g>
   </g>
  </g>
 </g>
 <defs>
  <clipPath id="pd3fb767a31">
   <rect x="50.211982" y="7.078341" width="309.677419" height="249.378802"/>
  </clipPath>
 </defs>
</svg>

</body></html>
